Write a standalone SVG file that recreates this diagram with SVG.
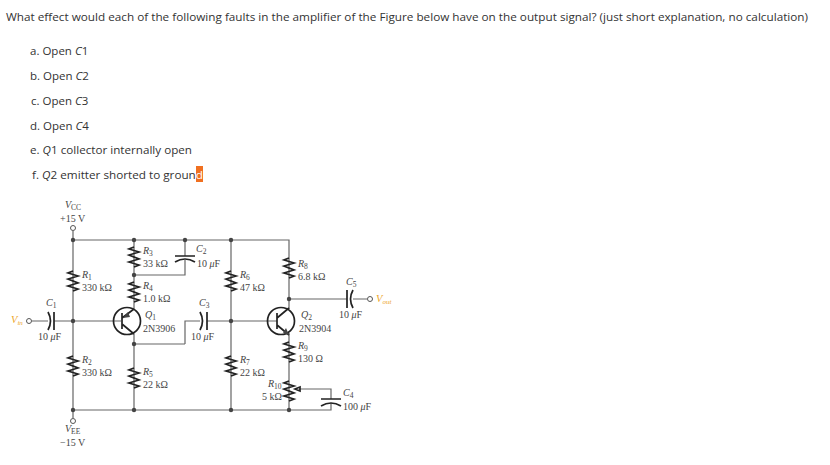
<svg xmlns="http://www.w3.org/2000/svg" width="830" height="465" viewBox="0 0 830 465">
<style>
.q{font:11.5px "Open Sans",sans-serif;fill:#333}
.l{font:10px "Liberation Serif",serif;fill:#444}
.v{font:italic 10.5px "Liberation Serif",serif;fill:#eda52c}
.i{font-style:italic}
.s{font-size:7.5px;font-style:normal}
.w{fill:none;stroke:#666;stroke-width:1.2}
.b{fill:none;stroke:#222;stroke-width:1.7}
.d{fill:#444}
.t{fill:#fff;stroke:#555;stroke-width:1}
</style>
<defs>
<path id="r" class="b" d="M0-10 L-5-8 L5-5 L-5-2 L5 2 L-5 5 L5 8 L0 10"/>
</defs>
<rect width="830" height="465" fill="#fff"/>
<g id="question">
<text class="q" x="6" y="21" textLength="802" lengthAdjust="spacingAndGlyphs">What effect would each of the following faults in the amplifier of the Figure below have on the output signal? (just short explanation, no calculation)</text>
<text class="q" x="30" y="55">a. Open <tspan class="i">C</tspan>1</text>
<text class="q" x="30" y="80">b. Open <tspan class="i">C</tspan>2</text>
<text class="q" x="31" y="105">c. Open <tspan class="i">C</tspan>3</text>
<text class="q" x="30" y="130">d. Open <tspan class="i">C</tspan>4</text>
<text class="q" x="30" y="154" textLength="162" lengthAdjust="spacingAndGlyphs">e. <tspan class="i">Q</tspan>1 collector internally open</text>
<rect x="196" y="166" width="7" height="16" fill="#f07020"/>
<text class="q" x="32" y="179" textLength="171" lengthAdjust="spacingAndGlyphs">f. <tspan class="i">Q</tspan>2 emitter shorted to groun<tspan fill="#fff">d</tspan></text>
</g>
<g id="connectors">
<path class="w" d="M73 231V410M73 240H289V309M289 333V410M73 410H331V403M331 399V389H300M134 240V309M134 334V410M185 240V256M185 260V275H134M231 240V410M32 321H48M54 321H121M185 344H134M185 344V321H200M207 321H277M289 299H347M353 299H367M73 410V418"/>
<path class="b" d="M300 387L295 389L300 391Z"/>
</g>
<g id="vcc"><circle class="t" cx="73" cy="228" r="2.5"/><text class="l i" x="65" y="208">V<tspan class="s" dy="2">CC</tspan></text><text class="l" x="60" y="222">+15 V</text></g>
<g id="vee"><circle class="t" cx="73" cy="421" r="2.5"/><text class="l i" x="65" y="432">V<tspan class="s" dy="2">EE</tspan></text><text class="l" x="60" y="446">−15 V</text></g>
<g id="vin"><circle class="t" cx="29" cy="321" r="2.5"/><text class="v" x="11" y="323">V<tspan font-size="7" dy="2">in</tspan></text></g>
<g id="vout"><circle class="t" cx="370" cy="299" r="2.5"/><text class="v" x="376" y="302">V<tspan font-size="7" dy="2">out</tspan></text></g>
<g id="R1"><use href="#r" x="73" y="281"/><text class="l i" x="82" y="278">R<tspan class="s" dy="1.5">1</tspan></text><text class="l" x="82" y="291">330 kΩ</text></g>
<g id="R2"><use href="#r" x="73" y="366"/><text class="l i" x="82" y="363">R<tspan class="s" dy="1.5">2</tspan></text><text class="l" x="82" y="376">330 kΩ</text></g>
<g id="R3"><use href="#r" x="134" y="257"/><text class="l i" x="143" y="254">R<tspan class="s" dy="1.5">3</tspan></text><text class="l" x="143" y="267">33 kΩ</text></g>
<g id="R4"><use href="#r" x="134" y="292"/><text class="l i" x="143" y="289">R<tspan class="s" dy="1.5">4</tspan></text><text class="l" x="143" y="302">1.0 kΩ</text></g>
<g id="R5"><use href="#r" x="134" y="378"/><text class="l i" x="143" y="375">R<tspan class="s" dy="1.5">5</tspan></text><text class="l" x="143" y="388">22 kΩ</text></g>
<g id="R6"><use href="#r" x="231" y="281"/><text class="l i" x="240" y="278">R<tspan class="s" dy="1.5">6</tspan></text><text class="l" x="240" y="291">47 kΩ</text></g>
<g id="R7"><use href="#r" x="231" y="366"/><text class="l i" x="240" y="363">R<tspan class="s" dy="1.5">7</tspan></text><text class="l" x="240" y="376">22 kΩ</text></g>
<g id="R8"><use href="#r" x="289" y="268"/><text class="l i" x="298" y="267">R<tspan class="s" dy="1.5">8</tspan></text><text class="l" x="298" y="280">6.8 kΩ</text></g>
<g id="R9"><use href="#r" x="289" y="352"/><text class="l i" x="298" y="349">R<tspan class="s" dy="1.5">9</tspan></text><text class="l" x="298" y="362">130 Ω</text></g>
<g id="R10"><use href="#r" x="289" y="391"/><text class="l i" x="268" y="387">R<tspan class="s" dy="1.5">10</tspan></text><text class="l" x="262" y="400">5 kΩ</text></g>
<g id="C1"><path class="b" d="M48 312Q53 321 48 330M54 312V330"/><text class="l i" x="46" y="306">C<tspan class="s" dy="1.5">1</tspan></text><text class="l" x="38" y="340">10 <tspan class="i">μ</tspan>F</text></g>
<g id="C2"><path class="b" d="M175 262Q185 256 195 262M175 256H195"/><text class="l i" x="196" y="252">C<tspan class="s" dy="1.5">2</tspan></text><text class="l" x="197" y="267">10 <tspan class="i">μ</tspan>F</text></g>
<g id="C3"><path class="b" d="M200 312Q205 321 200 330M207 312V330"/><text class="l i" x="199" y="306">C<tspan class="s" dy="1.5">3</tspan></text><text class="l" x="191" y="340">10 <tspan class="i">μ</tspan>F</text></g>
<g id="C4"><path class="b" d="M321 399H341M321 406Q331 400 341 406"/><text class="l i" x="343" y="396">C<tspan class="s" dy="1.5">4</tspan></text><text class="l" x="343" y="410">100 <tspan class="i">μ</tspan>F</text></g>
<g id="C5"><path class="b" d="M347 290V308M353 290Q348 299 353 308"/><text class="l i" x="346" y="285">C<tspan class="s" dy="1.5">5</tspan></text><text class="l" x="339" y="318">10 <tspan class="i">μ</tspan>F</text></g>
<g id="Q1"><circle class="b" cx="127" cy="321" r="13.5"/><path class="b" d="M122 313V329M122 318L134 309M122 324L134 334"/><path class="d" d="M123 318L128 312L130 317Z"/><text class="l i" x="145" y="318">Q<tspan class="s" dy="1.5">1</tspan></text><text class="l" x="143" y="332">2N3906</text></g>
<g id="Q2"><circle class="b" cx="281" cy="321" r="13.5"/><path class="b" d="M277 313V329M277 318L289 308M277 325L289 335"/><path class="d" d="M289 335L283 333L286 328Z"/><text class="l i" x="301" y="318">Q<tspan class="s" dy="1.5">2</tspan></text><text class="l" x="299" y="332">2N3904</text></g>
<g id="junctions" class="d"><circle cx="73" cy="240" r="2.2"/><circle cx="134" cy="240" r="2.2"/><circle cx="185" cy="240" r="2.2"/><circle cx="231" cy="240" r="2.2"/><circle cx="134" cy="275" r="2.2"/><circle cx="73" cy="321" r="2.2"/><circle cx="231" cy="321" r="2.2"/><circle cx="134" cy="344" r="2.2"/><circle cx="289" cy="299" r="2.2"/><circle cx="73" cy="410" r="2.2"/><circle cx="134" cy="410" r="2.2"/><circle cx="231" cy="410" r="2.2"/><circle cx="289" cy="410" r="2.2"/></g>
</svg>
